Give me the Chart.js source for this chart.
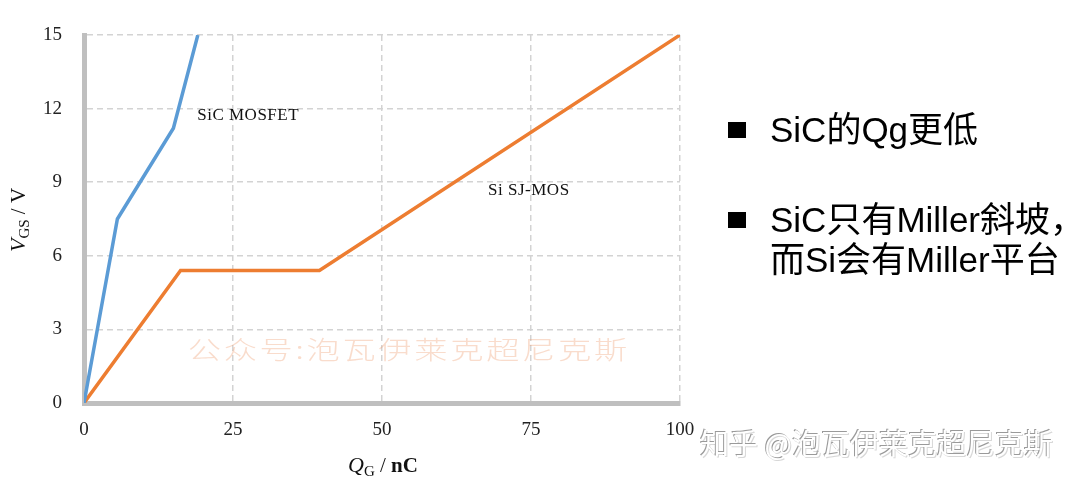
<!DOCTYPE html>
<html>
<head>
<meta charset="utf-8">
<script src="https://cdn.jsdelivr.net/npm/chart.js@4.4.1/dist/chart.umd.min.js"></script>
<style>
body{margin:0;background:#fff;}
#wrap{position:relative;width:1080px;height:489px;overflow:hidden;}
#chart{position:absolute;left:0;top:0;}
.note{position:absolute;font-family:"Liberation Sans","Noto Sans CJK SC",sans-serif;font-size:35px;color:#000;line-height:40px;white-space:nowrap;}
.bullet{position:absolute;width:18px;height:16px;background:#000;}
.zhihu{position:absolute;left:700px;top:421px;font-family:"Noto Sans CJK SC",sans-serif;font-size:29px;color:#fff;white-space:nowrap;
  text-shadow:-1px -1px 0 #9a9a9a,1px 1px 0 #d8d8d8;}
</style>
</head>
<body>
<div id="wrap">
  <canvas id="chart" width="1080" height="489"></canvas>
  <div class="bullet" style="left:728px;top:122px"></div>
  <div class="note" style="left:770px;top:110px">SiC的Qg更低</div>
  <div class="bullet" style="left:728px;top:212px"></div>
  <div class="note" style="left:770px;top:200px">SiC只有Miller斜坡，<br>而Si会有Miller平台</div>
  <div class="zhihu">知乎 @泡瓦伊莱克超尼克斯</div>
</div>
<script>
/* ---------------- DATA ---------------- */
const SIC_Q = [0, 5.6, 15.0, 19.1];        // nC
const SIC_V = [0, 7.5, 11.2, 15];          // V
const SI_Q  = [0, 16.2, 39.5, 100];
const SI_V  = [0, 5.4, 5.4, 15];
const X_TICKS = [0, 25, 50, 75, 100];
const Y_TICKS = [0, 3, 6, 9, 12, 15];
const LABEL_TEXT = ["SiC MOSFET", "Si SJ-MOS"];
const LABEL_Q    = [19.0, 67.8];
const LABEL_V    = [11.7, 8.65];
const WATERMARK  = "公众号:泡瓦伊莱克超尼克斯";
/* -------------------------------------- */

const BLUE = "#5b9bd5", ORANGE = "#ed7d31";
const SERIF = "'Liberation Serif','Times New Roman',serif";

function toPoints(xs, ys){ return xs.map((x, i) => ({x: x, y: ys[i]})); }

/* draw a run of text pieces one after another (for subscripts) */
function drawRuns(ctx, runs, x, y){
    let total = 0;
    runs.forEach(r => { ctx.font = r.font; total += ctx.measureText(r.t).width; });
    let cx = x - total / 2;
    runs.forEach(r => {
        ctx.font = r.font;
        ctx.fillText(r.t, cx, y + (r.dy || 0));
        cx += ctx.measureText(r.t).width;
    });
}

const extras = {
    id: 'extras',
    beforeDatasetsDraw(chart){
        const ctx = chart.ctx;
        const xs = chart.scales.x, ys = chart.scales.y;
        const x0 = xs.getPixelForValue(17.4), x1 = xs.getPixelForValue(91.6);
        ctx.save();
        ctx.font = "300 25px 'Noto Sans CJK SC'";
        ctx.letterSpacing = "2px";
        const w = ctx.measureText(WATERMARK).width;
        ctx.translate(x0, ys.getPixelForValue(2.2));
        ctx.scale((x1 - x0) / w, 1);
        ctx.fillStyle = "rgba(236,150,100,0.33)";
        ctx.textBaseline = "middle";
        ctx.fillText(WATERMARK, 0, 0);
        ctx.restore();
    },
    afterDraw(chart){
        const ctx = chart.ctx;
        const xs = chart.scales.x, ys = chart.scales.y;
        ctx.save();
        ctx.fillStyle = "#111";
        ctx.textBaseline = "middle";
        ctx.font = "17px " + SERIF;
        ctx.letterSpacing = "0.5px";
        LABEL_TEXT.forEach((t, i) => {
            ctx.fillText(t, xs.getPixelForValue(LABEL_Q[i]), ys.getPixelForValue(LABEL_V[i]));
        });
        ctx.letterSpacing = "0px";
        ctx.textBaseline = "alphabetic";
        // x title
        drawRuns(ctx, [
            {t: "Q", font: "italic 22px " + SERIF},
            {t: "G", font: "15px " + SERIF, dy: 4},
            {t: " / ", font: "21px " + SERIF},
            {t: "nC", font: "bold 21px " + SERIF}
        ], 383, 472);
        // y title
        ctx.translate(25, 220);
        ctx.rotate(-Math.PI / 2);
        drawRuns(ctx, [
            {t: "V", font: "italic 22px " + SERIF},
            {t: "GS", font: "15px " + SERIF, dy: 4},
            {t: " / V", font: "21px " + SERIF}
        ], 0, 0);
        ctx.restore();
    }
};

new Chart(document.getElementById('chart'), {
    type: 'line',
    data: {
        datasets: [
            { label: 'SiC MOSFET', data: toPoints(SIC_Q, SIC_V), borderColor: BLUE, borderWidth: 3.5, pointRadius: 0, tension: 0 },
            { label: 'Si SJ-MOS', data: toPoints(SI_Q, SI_V), borderColor: ORANGE, borderWidth: 3.5, pointRadius: 0, tension: 0 }
        ]
    },
    options: {
        responsive: false,
        animation: false,
        layout: { padding: { left: 0, top: 35, right: 400, bottom: 0 } },
        plugins: { legend: { display: false }, tooltip: { enabled: false } },
        scales: {
            x: {
                type: 'linear', min: 0, max: 100,
                afterBuildTicks: s => { s.ticks = X_TICKS.map(v => ({value: v})); },
                afterFit: s => { s.height = 86; },
                grid: { color: '#d3d3d3', lineWidth: 1.5, drawTicks: false },
                border: { color: '#bfbfbf', width: 5, dash: [6, 4] },
                ticks: { color: '#222', padding: 16, font: { family: SERIF, size: 19 }, maxRotation: 0 }
            },
            y: {
                type: 'linear', min: 0, max: 15,
                afterBuildTicks: s => { s.ticks = Y_TICKS.map(v => ({value: v})); },
                afterFit: s => { s.width = 84; },
                grid: { color: '#d3d3d3', lineWidth: 1.5, drawTicks: false },
                border: { color: '#bfbfbf', width: 5, dash: [6, 4] },
                ticks: { color: '#222', padding: 22, font: { family: SERIF, size: 19 } }
            }
        }
    },
    plugins: [extras]
});
</script>
</body>
</html>
